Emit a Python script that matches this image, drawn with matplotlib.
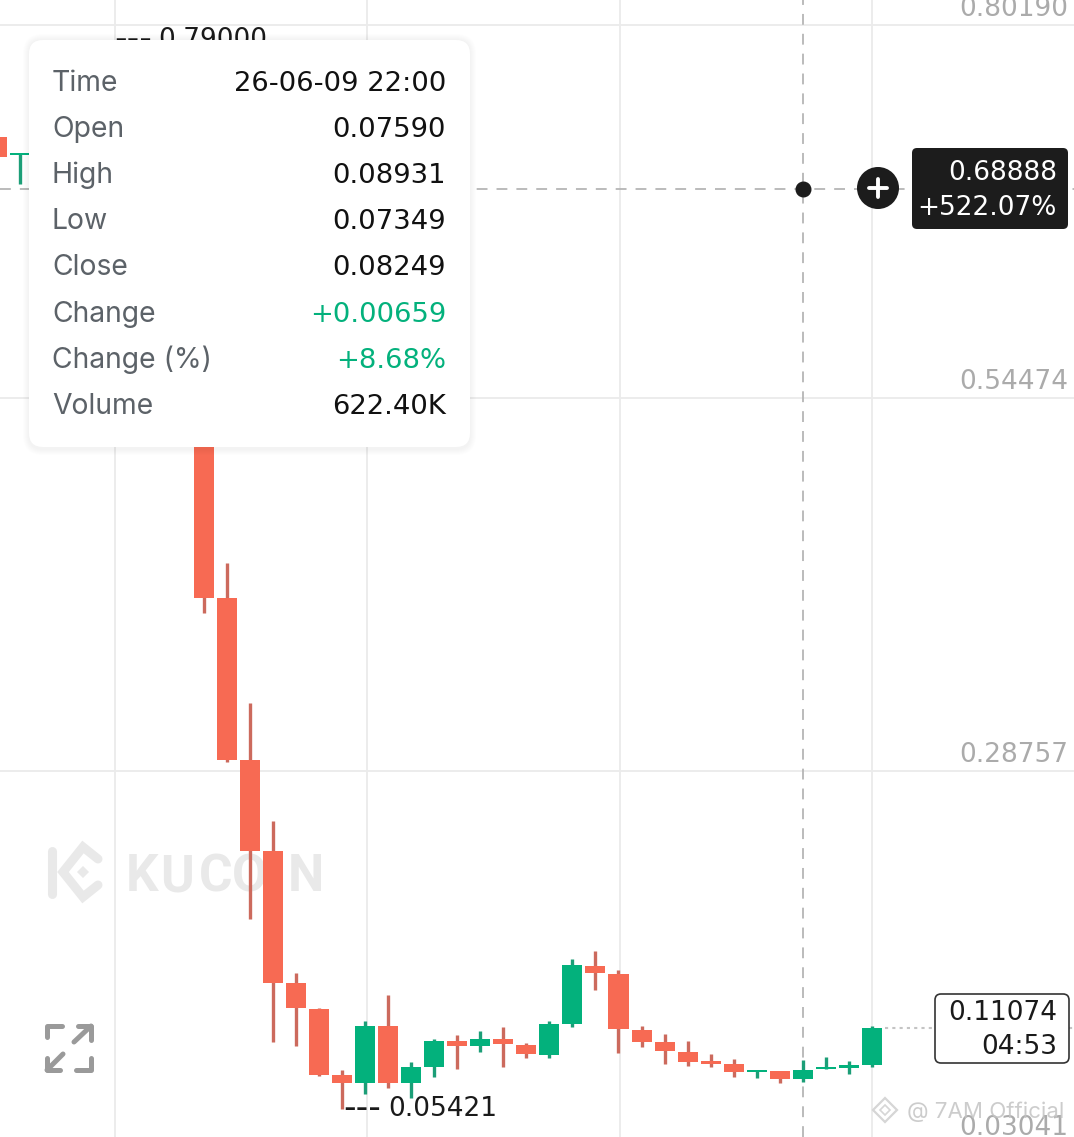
import matplotlib
matplotlib.use('Agg')
import matplotlib.pyplot as plt
from matplotlib.patches import FancyBboxPatch, Circle, Polygon

plt.rcParams['font.family'] = ['DejaVu Sans']
LABEL_FONT = ['Inter', 'DejaVu Sans']

# candle data
pos = [-9, -8] + list(range(0, 30))
opens = [0.72469, 0.71251, 0.5434, 0.40685, 0.29517, 0.23243, 0.14142, 0.12349, 0.07799, 0.07248,
         0.11177, 0.07248, 0.08351, 0.10143, 0.09799, 0.10281, 0.09868, 0.09178, 0.11315, 0.15314,
         0.14763, 0.10902, 0.10074, 0.09385, 0.08764, 0.08558, 0.08006, 0.08075, 0.07523, 0.08213,
         0.08282, 0.0849]
closes = [0.7109, 0.71366, 0.40685, 0.29517, 0.23243, 0.14142, 0.12418, 0.07799, 0.07248, 0.11177,
          0.07248, 0.08351, 0.10143, 0.09799, 0.10281, 0.09936, 0.09247, 0.11315, 0.15383, 0.14832,
          0.10971, 0.10074, 0.09454, 0.08695, 0.08558, 0.08006, 0.08144, 0.07523, 0.08144, 0.08351,
          0.0849, 0.11074]
highs = [0.72469, 0.71366, 0.5434, 0.43099, 0.33446, 0.25311, 0.14832, 0.12418, 0.08144, 0.11522,
         0.13315, 0.08695, 0.10281, 0.10557, 0.10833, 0.11109, 0.10005, 0.11522, 0.15797, 0.16348,
         0.15038, 0.11177, 0.10626, 0.10143, 0.09247, 0.08902, 0.08144, 0.08075, 0.08833, 0.0904,
         0.08764, 0.11177]
lows = [0.7109, 0.69228, 0.39651, 0.29379, 0.18554, 0.10074, 0.09799, 0.0773, 0.05421, 0.06489,
        0.06903, 0.06213, 0.07661, 0.08213, 0.09385, 0.08351, 0.08971, 0.08971, 0.11109, 0.13659,
        0.09316, 0.0973, 0.08558, 0.0842, 0.08351, 0.07661, 0.07592, 0.07248, 0.07317, 0.08213,
        0.07868, 0.08351]

y_ticks = [0.80190, 0.54474, 0.28757, 0.03041]
x_grid = [-3.87, 7.08, 18.05, 29]
cross_pos = 26
cross_price = 0.68888

row_names = ['Time', 'Open', 'High', 'Low', 'Close', 'Change', 'Change (%)', 'Volume']
row_values = ['26-06-09 22:00', '0.07590', '0.08931', '0.07349', '0.08249', '+0.00659', '+8.68%', '622.40K']

RED = '#F76A53'
GREEN = '#03B17C'
RED_W = '#CC6A5D'
GREEN_W = '#1C9E77'
GRID = '#EBEBEB'
WM = '#E9E9E9'

fig = plt.figure(figsize=(10.74, 11.37), dpi=100)

# pixel layer behind the candles, for the logo
back = fig.add_axes([0, 0, 1, 1], zorder=0)
back.set_xlim(0, 1074)
back.set_ylim(1137, 0)
back.axis('off')
for ch, x in zip('KUCOIN', [126, 160, 199, 232, 270, 288]):
    back.text(x, 877, ch, fontsize=37, fontweight='bold', color=WM, va='center', ha='left', family='Roboto')
mark = dict(color=WM, lw=6.5, solid_capstyle='round', solid_joinstyle='miter')
back.plot([52, 52], [851, 894], **mark)
back.plot([98, 83, 63, 83, 98], [859, 847, 872, 897, 885], **mark)
back.add_patch(Polygon([(83, 866), (89, 872), (83, 878), (77, 872)], closed=True, fc=WM, ec='none'))

# main chart
ax = fig.add_axes([0, 0, 1, 1], zorder=1)
ax.patch.set_alpha(0)
ax.set_xlim(-8.858, 37.78)
ax.set_ylim(0.03525, 0.81914)
ax.axis('off')

for v in y_ticks:
    ax.axhline(v, color=GRID, lw=1.3, zorder=1)
    ax.annotate(f'{v:.5f}', xy=(1, v), xycoords=('axes fraction', 'data'), xytext=(-6, 3),
                textcoords='offset pixels', ha='right', va='bottom', fontsize=19, color='#ABABAB',
                annotation_clip=False, zorder=2)
for x in x_grid:
    ax.axvline(x, color=GRID, lw=1.3, zorder=1)

ax.axvline(cross_pos, color='#B5B5B5', lw=1.3, dashes=(6, 5), zorder=2)
ax.axhline(cross_price, color='#B5B5B5', lw=1.3, dashes=(6, 5), zorder=2)

colors = [GREEN if c > o else RED for o, c in zip(opens, closes)]
wicks = [GREEN_W if c > o else RED_W for o, c in zip(opens, closes)]
ax.vlines(pos, lows, highs, colors=wicks, lw=2.4, zorder=3)
bottoms = [min(o, c) for o, c in zip(opens, closes)]
heights = [abs(o - c) for o, c in zip(opens, closes)]
ax.bar(pos, heights, bottom=bottoms, width=0.87, color=colors, zorder=4)
ax.plot([cross_pos], [cross_price], 'o', ms=10.5, color='#1C1C1C', zorder=5)

# pixel layer on top: tooltip, tags, icons
top = fig.add_axes([0, 0, 1, 1], zorder=2)
top.patch.set_alpha(0)
top.set_xlim(0, 1074)
top.set_ylim(1137, 0)
top.axis('off')

top.text(343, 1118, '---', fontsize=25, color='#1A1A1A', va='baseline', ha='left')
top.text(388, 1116, '0.05421', fontsize=19, color='#1A1A1A', va='baseline', ha='left')
top.text(114, 49, '---', fontsize=25, color='#1A1A1A', va='baseline', ha='left')
top.text(158, 47, '0.79000', fontsize=19, color='#1A1A1A', va='baseline', ha='left')


def rbox(x0, y0, x1, y1, r, **kw):
    p = FancyBboxPatch((x0 + r, y0 + r), x1 - x0 - 2 * r, y1 - y0 - 2 * r,
                       boxstyle=f'round,pad={r},rounding_size={r}', **kw)
    top.add_patch(p)


for g in range(6, 0, -1):
    rbox(29 - g, 40 - g, 470 + g, 447 + g + 2, 14 + g, fc='black', ec='none', alpha=0.008, zorder=5)
rbox(29, 40, 470, 447, 14, fc='white', ec='none', zorder=6)

row_y = [81, 127, 173, 219, 265, 312, 358, 404]
for name, val, y in zip(row_names, row_values, row_y):
    c = GREEN if val.startswith('+') else '#111111'
    top.text(52, y + 10, name, fontsize=20.4, color='#5C6268', va='baseline', ha='left', zorder=7, family=LABEL_FONT)
    top.text(446, y + 10, val, fontsize=19.7, color=c, va='baseline', ha='right', zorder=7)

# crosshair tag
top.add_patch(Circle((878, 188), 21, fc='#1C1C1C', ec='none', zorder=6))
top.plot([869, 887], [188, 188], color='white', lw=2.8, zorder=7, solid_capstyle='round')
top.plot([878, 878], [179, 197], color='white', lw=2.8, zorder=7, solid_capstyle='round')
rbox(912, 148, 1068, 229, 5, fc='#1C1C1C', ec='none', zorder=6)
top.text(1057, 173, '0.68888', fontsize=19, color='white', va='center', ha='right', zorder=7)
top.text(1057, 208, '+522.07%', fontsize=19, color='white', va='center', ha='right', zorder=7)

# last price tag
top.plot([885, 935], [1028, 1028], color='#C4C4C4', lw=1.5, dashes=(1.5, 2), zorder=3)
top.plot([1069, 1074], [1028, 1028], color='#C4C4C4', lw=1.5, dashes=(1.5, 2), zorder=3)
rbox(935, 994, 1069, 1063, 6, fc='white', ec='#333333', lw=1.2, zorder=6)
top.text(1057, 1013, '0.11074', fontsize=19, color='#1A1A1A', va='center', ha='right', zorder=7)
top.text(1057, 1047, '04:53', fontsize=19, color='#1A1A1A', va='center', ha='right', zorder=7)

# expand icon
icon = dict(color='#9A9A9A', lw=3.6, solid_capstyle='round', solid_joinstyle='round')
top.plot([47, 47, 62], [1037, 1026, 1026], **icon)
top.plot([91, 91, 76], [1058, 1070, 1070], **icon)
top.plot([74, 91], [1042, 1026], **icon)
top.plot([78, 91, 91], [1026, 1026, 1040], **icon)
top.plot([63, 47], [1054, 1070], **icon)
top.plot([47, 47, 60], [1058, 1070, 1070], **icon)

# source watermark
top.text(907, 1112, '@ 7AM Official', fontsize=16, color='#C4C4C4', alpha=0.85, va='center', ha='left', zorder=8,
         family=LABEL_FONT)
top.add_patch(Polygon([(885, 1098), (897, 1110), (885, 1122), (873, 1110)], closed=True, fc='none',
                      ec='#D6D6D6', lw=1.6, zorder=8))
top.add_patch(Polygon([(885, 1105), (890, 1110), (885, 1115), (880, 1110)], closed=True, fc='none',
                      ec='#D6D6D6', lw=1.2, zorder=8))

fig.savefig('out.png', dpi=100)
